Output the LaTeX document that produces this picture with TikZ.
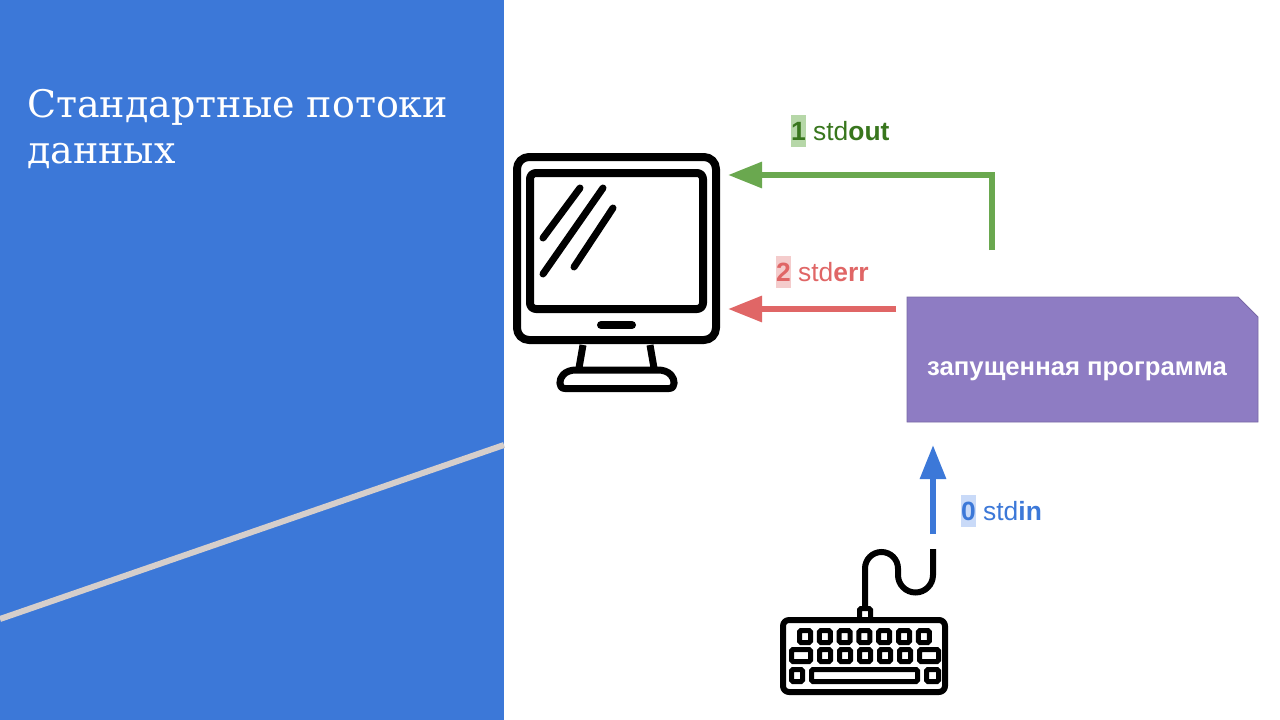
\documentclass[tikz,border=0pt]{standalone}
\usepackage{fontspec}
\usetikzlibrary{arrows.meta}
\setmainfont{Liberation Sans}
\newfontfamily\titlefont{DejaVu Serif}
\definecolor{panelblue}{HTML}{3C78D8}
\definecolor{slashgrey}{HTML}{D5CECB}
\definecolor{outgreen}{HTML}{6AA84F}
\definecolor{outtext}{HTML}{38761D}
\definecolor{outbg}{HTML}{B6D7A8}
\definecolor{errred}{HTML}{E06666}
\definecolor{errbg}{HTML}{F4CCCC}
\definecolor{inbg}{HTML}{C9DAF8}
\definecolor{progviolet}{HTML}{8E7CC3}
\tikzset{
  icon/.style={draw=black,line width=8pt,line join=round},
  glare/.style={draw=black,line width=7pt,line cap=round},
  flow/.style={line width=6pt,-{Triangle[length=34pt,width=25pt]}},
  keycap/.style={draw=black,line width=5pt,rounded corners=1.5pt},
  cablestyle/.style={draw=black,line width=6pt},
  digit/.style={inner sep=0pt,minimum width=15pt,minimum height=32pt,font=\fontsize{26.4}{26.4}\selectfont\bfseries},
  stream/.style={inner sep=0pt,anchor=west,font=\fontsize{26.4}{26.4}\selectfont},
  titleline/.style={inner sep=0pt,anchor=base west,text=white,font=\titlefont\fontsize{38}{38}\selectfont}
}
\newcommand{\keyrect}[4]{\draw[keycap] (#1+2.5,#2+2.5) rectangle (#3-2.5,#4-2.5);}
\begin{document}
\begin{tikzpicture}[x=1pt,y=-1pt]
\useasboundingbox (0,0) rectangle (1280,720);
\fill[white] (0,0) rectangle (1280,720);
\fill[panelblue] (0,0) rectangle (504,720);
\draw[slashgrey,line width=6pt] (0,619) -- (504,445);
\node[titleline] (title1) at (27,117) {Стандартные потоки};
\node[titleline] (title2) at (27,163) {данных};

% monitor
\node[icon,rounded corners=12pt,minimum width=199pt,minimum height=183pt,inner sep=0pt] (monitor) at (616.5,248.5) {};
\node[icon,rounded corners=6pt,minimum width=173pt,minimum height=136pt,inner sep=0pt] (screen) at (616.5,241) {};
\draw[glare] (580,188) -- (543,238);
\draw[glare] (603,188) -- (543,274);
\draw[glare] (613,208) -- (574,267);
\draw[icon,line cap=round] (601,325) -- (632,325);
\draw[icon,line width=7pt] (583,345) -- (579,368);
\draw[icon,line width=7pt] (650,345) -- (654,368);
\draw[icon,line width=7pt] (565,388.5) .. controls (558,388.5) and (559,379) .. (563,375) .. controls (566,371.5) and (571,370) .. (576,370) -- (658,370) .. controls (663,370) and (668,371.5) .. (671,375) .. controls (675,379) and (676,388.5) .. (669,388.5) -- cycle;

% program
\node[inner sep=0pt,outer sep=0pt,minimum width=351pt,minimum height=125pt] (program) at (1082.5,359.5) {};
\fill[progviolet,draw=progviolet!85!black,line width=0.8pt] (program.north west) -- ([xshift=-20pt]program.north east) -- ([yshift=-20pt]program.north east) -- (program.south east) -- (program.south west) -- cycle;
\node[inner sep=0pt,text=white,font=\fontsize{25.7}{25.7}\selectfont\bfseries] (progtext) at (1077,371) {запущенная программа};

% keyboard
\draw[icon,line width=6pt,rounded corners=6pt] (783,620) rectangle (945,692);
\foreach \i in {0,...,6} { \keyrect{797+19.8*\i}{628}{813+19.8*\i}{645} }
\keyrect{789}{647}{813}{664}
\foreach \i in {0,...,4} { \keyrect{817+20*\i}{647}{833+20*\i}{664} }
\keyrect{917}{647}{941}{664}
\keyrect{789}{667}{805}{684}
\keyrect{809}{667}{920}{684}
\keyrect{924}{667}{941}{684}
\draw[keycap] (859.5,608.5) rectangle (870.5,620);
\coordinate (cableend) at (933,549);
\draw[cablestyle] (865,607) -- (865,568.5) arc[start angle=180,end angle=360,radius=16.5] -- (898,575) arc[start angle=180,end angle=0,radius=17.5] -- (cableend);

% flows
\coordinate (outcorner) at (992,175);
\coordinate (errlevel) at (800,309);
\draw[flow,outgreen,shorten <=47pt,shorten >=8pt] (outcorner |- program.north) -- (outcorner) -- (monitor.east |- outcorner);
\draw[flow,errred,shorten <=11pt,shorten >=8pt] (program.west |- errlevel) -- (monitor.east |- errlevel);
\draw[flow,panelblue,shorten <=15pt,shorten >=23pt] (cableend) -- (cableend |- program.south);

% labels
\node[digit,fill=outbg,text=outtext] (d1) at (798.5,131) {1};
\node[stream,text=outtext] (s1) at (813,131) {std\textbf{out}};
\node[digit,fill=errbg,text=errred] (d2) at (783.5,272) {2};
\node[stream,text=errred] (s2) at (798,272) {std\textbf{err}};
\node[digit,fill=inbg,text=panelblue] (d0) at (968.5,511) {0};
\node[stream,text=panelblue] (s0) at (983,511) {std\textbf{in}};
\end{tikzpicture}
\end{document}
